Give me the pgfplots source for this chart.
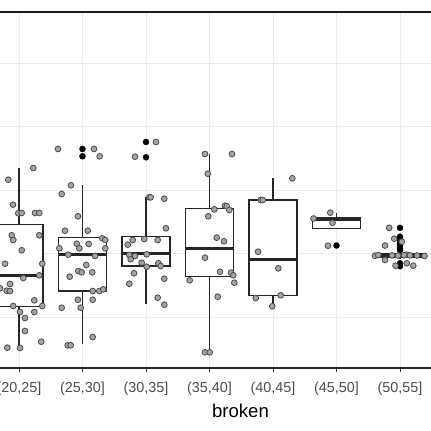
\documentclass[border=0pt]{standalone}
\usepackage{pgfplots}
\pgfplotsset{compat=1.18}
\usepgfplotslibrary{statistics}
\usepackage{fontspec}
\setmainfont{Liberation Sans}
\definecolor{gridc}{HTML}{EBEBEB}
\definecolor{ptfill}{HTML}{A4A4A4}
\definecolor{ptdraw}{HTML}{4A4A4A}
\definecolor{tickc}{HTML}{4D4D4D}
\definecolor{boxc}{HTML}{262626}
\begin{document}
\begin{tikzpicture}
\clip (0,-63pt) rectangle (431pt,368pt);
\begin{axis}[name=ax, at={(0,0)}, anchor=south west, scale only axis,
  width=431pt, height=356pt,
  xmin=-0.299, xmax=6.488, ymin=0.197, ymax=5.803,
  xtick={0,1,2,3,4,5,6},
  xticklabels={{(20,25]},{(25,30]},{(30,35]},{(35,40]},{(40,45]},{(45,50]},{(50,55]}},
  ytick={1,2,3,4,5}, yticklabels={}, ytick style={draw=none},
  xtick pos=left, xtick align=outside, major tick length=3.5pt,
  xtick style={draw=black!80, line width=0.9pt},
  xticklabel style={font=\fontsize{14.4}{16}\selectfont, text=tickc, yshift=-7.5pt},
  xlabel={broken},
  xlabel style={font=\fontsize{18.6}{21}\selectfont, xshift=25pt, yshift=-1pt},
  axis line style={draw=none},
  grid=major, major grid style={gridc, line width=0.9pt},
  clip=false,
  boxplot/draw direction=y,
  boxplot/box extend=0.75, boxplot/whisker extend=0,
  boxplot/every median/.style={line width=2.5pt},
]
% boxes
\addplot[boxplot prepared={draw position=0, lower whisker=0.512, lower quartile=1.162, median=1.657, upper quartile=2.454, upper whisker=3.351}, draw=boxc, fill=white, line width=1.4pt] coordinates {};
\addplot[boxplot prepared={draw position=1, lower whisker=0.575, lower quartile=1.409, median=1.981, upper quartile=2.249, upper whisker=3.074}, draw=boxc, fill=white, line width=1.4pt] coordinates {};
\addplot[boxplot prepared={draw position=2, lower whisker=1.200, lower quartile=1.803, median=1.997, upper quartile=2.265, upper whisker=2.885}, draw=boxc, fill=white, line width=1.4pt] coordinates {};
\addplot[boxplot prepared={draw position=3, lower whisker=0.438, lower quartile=1.635, median=2.082, upper quartile=2.712, upper whisker=3.567}, draw=boxc, fill=white, line width=1.4pt] coordinates {};
\addplot[boxplot prepared={draw position=4, lower whisker=1.162, lower quartile=1.335, median=1.902, upper quartile=2.843, upper whisker=3.184}, draw=boxc, fill=white, line width=1.4pt] coordinates {};
\addplot[boxplot prepared={draw position=5, lower whisker=2.391, lower quartile=2.391, median=2.539, upper quartile=2.570, upper whisker=2.643}, draw=boxc, fill=white, line width=1.4pt] coordinates {};
\addplot[boxplot prepared={draw position=6, lower whisker=1.921, lower quartile=1.945, median=1.969, upper quartile=1.992, upper whisker=2.008}, draw=boxc, fill=white, line width=1.4pt] coordinates {};
% outliers
\addplot[only marks, mark=*, mark size=3pt, mark options={fill=black, draw=black}] coordinates {
(1,3.646) (1,3.531) (2,3.756) (2,3.515) (5,2.126)
(6,2.405) (6,2.265) (6,2.235) (6,2.205) (6,2.175) (6,2.145) (6,2.115) (6,2.085) (6,2.055) (6,1.846) (6,1.800)
};
% jittered observations
\addplot[only marks, mark=*, mark size=2.9pt, mark options={fill=ptfill, draw=ptdraw, line width=0.8pt}] coordinates {
(-0.169,3.162) (0.225,3.346) (-0.094,2.769) (-0.011,2.633) (0.043,2.638) (0.252,2.638) (0.320,2.638)
(-0.115,2.287) (-0.090,2.213) (0.320,2.287) (0.043,2.050) (-0.220,1.839) (0.367,1.839) (0.320,1.657)
(0.068,1.614) (-0.142,1.520) (-0.299,1.452) (-0.194,1.414) (-0.142,1.409) (0.241,1.263) (-0.090,1.173)
(0.367,1.173) (0.016,1.079) (0.094,0.984) (0.241,1.079) (0.094,0.780) (0.351,0.611) (-0.184,0.517) (0.016,0.512)
(0.614,3.646) (1.181,3.646) (1.271,3.531) (0.819,3.074) (0.672,2.937) (0.929,2.586) (0.724,2.359)
(1.082,2.359) (1.312,2.239) (1.359,2.213) (0.909,2.154) (0.950,2.082) (1.098,2.150) (0.635,2.082)
(1.359,2.082) (0.776,1.981) (1.197,1.961) (1.060,1.819) (0.934,1.724) (0.987,1.704) (1.154,1.704)
(0.798,1.635) (1.161,1.409) (1.265,1.409) (1.328,1.436) (0.929,1.272) (1.161,1.272) (0.672,1.146)
(0.972,1.146) (1.161,0.685) (0.767,0.554) (0.814,0.554)
(2.157,3.756) (1.827,3.524) (2.052,2.885) (2.074,2.885) (2.288,2.863) (2.315,2.397) (1.791,2.213)
(1.973,2.228) (2.184,2.213) (1.712,2.139) (1.737,1.976) (1.759,1.909) (1.827,1.961) (2.011,1.987)
(1.932,1.855) (2.194,1.846) (2.231,1.803) (1.811,1.688) (2.288,1.603) (1.737,1.524) (2.184,1.304)
(2.288,1.194) (2.011,1.792)
(2.929,3.567) (3.354,3.567) (2.972,3.257) (3.244,2.753) (3.271,2.743) (3.076,2.696) (3.312,2.685)
(2.981,2.586) (3.113,2.249) (3.228,2.192) (2.929,1.934) (3.165,1.713) (3.339,1.698) (3.375,1.657)
(2.688,1.578) (3.391,1.540) (3.129,1.320) (2.929,0.444) (3.003,0.444)
(4.304,3.184) (3.806,2.843) (3.838,2.843) (3.764,2.028) (4.083,1.767) (3.728,1.299) (4.121,1.342) (3.989,1.169)
(4.902,2.643) (4.937,2.485) (4.638,2.551) (4.866,2.123)
(5.830,2.405) (5.909,2.233) (5.764,2.126) (6.027,2.186) (5.606,1.965) (5.658,1.976) (5.764,1.898)
(5.929,1.808) (6.106,1.846) (6.209,1.808) (6.386,1.961) (6.106,1.981)
(5.874,1.970) (5.969,1.968) (6.063,1.972) (6.157,1.970) (6.268,1.968)
};
\end{axis}
\draw[black!85, line width=1.1pt] (ax.south west) -- (ax.south east);
\draw[black!90, line width=1.2pt] (ax.north west) -- (ax.north east);
\end{tikzpicture}
\end{document}
